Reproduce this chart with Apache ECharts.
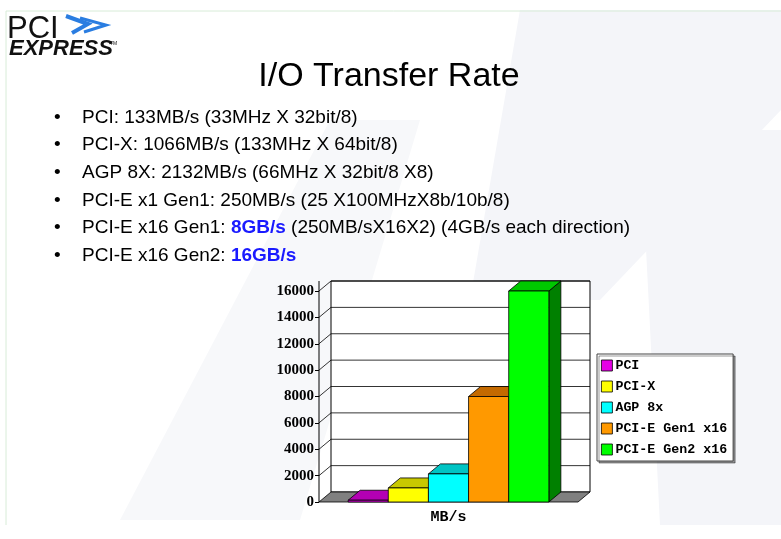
<!DOCTYPE html><html><head><meta charset="utf-8">
<script src="https://cdn.jsdelivr.net/npm/echarts@6/dist/echarts.min.js"></script>
<style>html,body{margin:0;padding:0;background:#fff}#c{width:781px;height:539px}</style></head><body><div id="c"></div>
<script>
const categories = ['MB/s'];
const seriesNames = ['PCI','PCI-X','AGP 8x','PCI-E Gen1 x16','PCI-E Gen2 x16'];
const values = [133, 1066, 2132, 8000, 16000];
const yTicks = [0,2000,4000,6000,8000,10000,12000,14000,16000];
const frontColors = ['#e600e6','#ffff00','#00ffff','#ff9900','#00ff00'];
const topColors = ['#b300b3','#c8c800','#00c4c4','#c46a00','#00c800'];
const sideColors = ['#800080','#999900','#009999','#995200','#008000'];
const bullets = [
  ['PCI: 133MB/s (33MHz X 32bit/8)'],
  ['PCI-X: 1066MB/s (133MHz X 64bit/8)'],
  ['AGP 8X: 2132MB/s (66MHz X 32bit/8 X8)'],
  ['PCI-E x1 Gen1: 250MB/s (25 X100MHzX8b/10b/8)'],
  ['PCI-E x16 Gen1: ','8GB/s',' (250MB/sX16X2) (4GB/s each direction)'],
  ['PCI-E x16 Gen2: ','16GB/s']
];
const DX = 12, DY = -10;
const chart = echarts.init(document.getElementById('c'));
const graphics = [
  {type:'polygon',silent:true,z:-10,shape:{points:[[520,10],[781,10],[781,110],[600,300],[470,300]]},style:{fill:'#f4f5f9'}},
  {type:'polygon',silent:true,z:-10,shape:{points:[[640,130],[781,130],[781,525],[660,525]]},style:{fill:'#f4f5f9'}},
  {type:'polygon',silent:true,z:-10,shape:{points:[[120,520],[330,120],[420,120],[300,520]]},style:{fill:'#f7f8fa'}},
  {type:'line',shape:{x1:6,y1:11,x2:781,y2:11},style:{stroke:'#d8ecd8',lineWidth:1}},
  {type:'line',shape:{x1:6,y1:11,x2:6,y2:525},style:{stroke:'#d8ecd8',lineWidth:1}},
  {type:'text',left:7,top:14,style:{text:'PCI',font:'31px "Liberation Sans"',fill:'#111'}},
  {type:'polyline',shape:{points:[[66,16],[88,24],[72,33]]},style:{stroke:'#2a7de1',lineWidth:4,fill:null}},
  {type:'polyline',shape:{points:[[80,18],[106,25],[84,32]]},style:{stroke:'#2a7de1',lineWidth:3,fill:null}},
  {type:'text',left:9,top:38,style:{text:'EXPRESS',font:'italic bold 22px "Liberation Sans"',fill:'#111'}},
  {type:'text',left:110,top:41,style:{text:'TM',font:'5px "Liberation Sans"',fill:'#111'}},
  {type:'text',x:389,y:60,style:{text:'I/O Transfer Rate',font:'34px "Liberation Sans"',fill:'#000',align:'center'}}
];
bullets.forEach((b,i)=>{
  const y = 108 + i*27.6;
  graphics.push({type:'text',x:54,y:y,style:{text:'•',font:'19px "Liberation Sans"',fill:'#000'}});
  const rt = b.map((s,k)=> k===1 ? '{b|'+s+'}' : '{n|'+s+'}').join('');
  graphics.push({type:'text',x:82,y:y,style:{text:rt,rich:{n:{font:'19px "Liberation Sans"',fill:'#000'},b:{font:'bold 19px "Liberation Sans"',fill:'#1a1aff'}}}});
});
const barSeries = seriesNames.map((name,i)=>({
  name, type:'custom', data:[[categories[0], values[i]]], z:5+i,
  itemStyle:{color:frontColors[i]},
  renderItem:(params, api)=>{
    const base = api.coord([api.value(0), 0]);
    const top = api.coord([api.value(0), api.value(1)]);
    const band = api.size([1,0])[0];
    const w = band*0.155;
    const x0 = base[0] - 2.5*w + i*w, x1 = x0 + w, y0 = base[1], y1 = top[1];
    const st = {stroke:'#000',lineWidth:0.8};
    return {type:'group',children:[
      {type:'polygon',shape:{points:[[x1,y0],[x1+DX,y0+DY],[x1+DX,y1+DY],[x1,y1]]},style:Object.assign({fill:sideColors[i]},st)},
      {type:'polygon',shape:{points:[[x0,y1],[x0+DX,y1+DY],[x1+DX,y1+DY],[x1,y1]]},style:Object.assign({fill:topColors[i]},st)},
      {type:'rect',shape:{x:x0,y:y1,width:w,height:y0-y1},style:Object.assign({fill:frontColors[i]},st)}
    ]};
  }
}));
const wallSeries = {
  type:'custom', data:[[categories[0],0]], z:1, silent:true,
  renderItem:(params, api)=>{
    const band = api.size([1,0])[0];
    const c = api.coord([api.value(0),0]);
    const L = c[0]-band/2, R = c[0]+band/2;
    const y0 = c[1], yT = api.coord([api.value(0), yTicks[yTicks.length-1]])[1];
    const ch = [
      {type:'rect',shape:{x:L+DX,y:yT+DY,width:band,height:y0-yT},style:{fill:'#fff',stroke:'#000',lineWidth:1}},
      {type:'polygon',shape:{points:[[L,y0],[L+DX,y0+DY],[R+DX,y0+DY],[R,y0]]},style:{fill:'#808080',stroke:'#000',lineWidth:0.8}}
    ];
    yTicks.forEach(t=>{
      const y = api.coord([api.value(0), t])[1];
      if (t>0) ch.push({type:'polyline',shape:{points:[[L,y],[L+DX,y+DY],[R+DX,y+DY]]},style:{stroke:'#000',lineWidth:0.8,fill:null}});
    });
    ch.push({type:'line',shape:{x1:L,y1:yT+DY,x2:L,y2:y0},style:{stroke:'#000',lineWidth:1}});
    return {type:'group',children:ch};
  }
};
chart.setOption({
  animation:false,
  graphic:graphics,
  grid:{left:319,top:291,width:259,height:211},
  xAxis:{type:'category',data:categories,axisLine:{show:false},axisTick:{show:false},
    axisLabel:{margin:8,color:'#000',fontFamily:'Liberation Mono',fontSize:15,fontWeight:'bold'}},
  yAxis:{type:'value',min:0,max:16000,interval:2000,splitLine:{show:false},axisLine:{show:false},
    axisTick:{show:true,length:4,lineStyle:{color:'#000'}},
    axisLabel:{color:'#000',fontFamily:'Liberation Serif',fontSize:15,fontWeight:'bold',margin:5,formatter:v=>String(v)}},
  legend:{orient:'vertical',left:597,top:354,itemWidth:11,itemHeight:11,itemGap:8,icon:'rect',
    padding:[5,6,5,4],borderColor:'#444',borderWidth:1,backgroundColor:'#fff',
    shadowColor:'rgba(0,0,0,0.4)',shadowOffsetX:2,shadowOffsetY:2,
    textStyle:{fontFamily:'Liberation Mono',fontSize:13.3,fontWeight:'bold',color:'#000',padding:[0,0,0,-2]},
    itemStyle:{borderColor:'#000',borderWidth:0.8},
    data:seriesNames},
  series:[wallSeries].concat(barSeries)
});
</script></body></html>
